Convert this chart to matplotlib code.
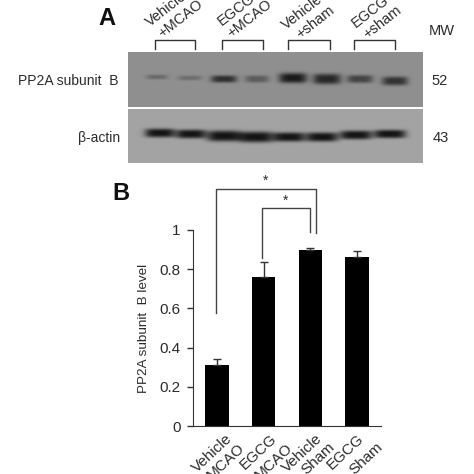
"""Western blot panel (A) and PP2A subunit B bar chart (B)."""
import numpy as np
import matplotlib
matplotlib.use("Agg")
import matplotlib.pyplot as plt

plt.rcParams["font.family"] = ["Liberation Sans", "DejaVu Sans"]
TXT = "#2b2b2b"

# panel B data
groups = ["Vehicle", "EGCG", "Vehicle", "EGCG"]
conds = ["MCAO", "MCAO", "Sham", "Sham"]
levels = [0.31, 0.76, 0.90, 0.86]
errs = [0.03, 0.075, 0.01, 0.033]
yticks = [0, 0.2, 0.4, 0.6, 0.8, 1]
yticklabels = ["0", "0.2", "0.4", "0.6", "0.8", "1"]

# panel A band readings: lane centre, half width, centre row, thickness, darkness
pp2a_x = [157, 190, 224, 257, 293, 327, 360, 395]
pp2a_hw = [11, 12, 13, 12, 14, 14, 13, 13]
pp2a_y = [77, 78, 79, 79, 78, 79, 79, 81]
pp2a_th = [2.4, 2.4, 3.6, 3.6, 5.0, 5.2, 4.0, 4.4]
pp2a_dark = [0.30, 0.27, 0.78, 0.42, 0.95, 0.85, 0.62, 0.75]
actin_x = [160, 191, 224, 256, 289, 322, 356, 390]
actin_hw = [15, 15, 17, 17, 16, 16, 16, 16]
actin_y = [133, 134, 136, 137, 137, 137, 135, 134]
actin_th = [4.4, 4.4, 5.4, 5.4, 4.6, 4.6, 4.4, 4.2]
actin_dark = [1.0, 1.0, 1.0, 1.0, 1.0, 1.0, 1.0, 1.0]


def blot(x0, x1, y0, y1, bg, xs, hws, ys, ths, darks):
    # soft bands on a grey membrane, built on a one pixel grid
    xx, yy = np.meshgrid(np.arange(x0, x1) + 0.5, np.arange(y0, y1) + 0.5)
    img = np.full(xx.shape, bg, dtype=float)
    for x, hw, y, th, d in zip(xs, hws, ys, ths, darks):
        band = np.exp(-((xx - x) / hw) ** 4) * np.exp(-np.abs((yy - y) / th) ** 3)
        img -= d * (bg - 0.08) * band
    return np.clip(img, 0.08, 1)


fig = plt.figure(figsize=(4.74, 4.74), dpi=100)

# overlay in pixel coordinates for the blot and its labels
ov = fig.add_axes([0, 0, 1, 1])
ov.set_xlim(0, 474)
ov.set_ylim(474, 0)
ov.axis("off")

ov.imshow(blot(128, 423, 52, 107, 0.56, pp2a_x, pp2a_hw, pp2a_y, pp2a_th, pp2a_dark),
          extent=(128, 423, 107, 52), cmap="gray", vmin=0, vmax=1, aspect="auto")
ov.imshow(blot(128, 423, 109, 163, 0.64, actin_x, actin_hw, actin_y, actin_th, actin_dark),
          extent=(128, 423, 163, 109), cmap="gray", vmin=0, vmax=1, aspect="auto")
ov.set_xlim(0, 474)
ov.set_ylim(474, 0)

# lane brackets
for a, b in [(155, 195), (222, 263), (288, 330), (354, 395)]:
    ov.plot([a, a, b, b], [49, 40, 40, 49], color="#333333", lw=1)

# lane labels run off the top edge like in the original
lane_txt = [("Vehicle", 166, 9), ("+MCAO", 180, 19), ("EGCG", 236, 10), ("+MCAO", 249, 19),
            ("Vehicle", 302, 12), ("+sham", 315, 22), ("EGCG", 370, 12), ("+sham", 382, 22)]
for s, x, y in lane_txt:
    ov.text(x, y, s, rotation=38, ha="center", va="center", rotation_mode="anchor",
            fontsize=10.5, color=TXT)

ov.text(107, 18, "A", fontsize=17, fontweight="bold", ha="center", va="center", color="#111111")
ov.text(442, 31, "MW", fontsize=10.5, ha="center", va="center", color=TXT)
ov.text(119, 81, "PP2A subunit  B", fontsize=10, ha="right", va="center", color=TXT)
ov.text(120, 138, "β-actin", fontsize=10, ha="right", va="center", color=TXT)
ov.text(440, 81, "52", fontsize=10.5, ha="center", va="center", color=TXT)
ov.text(441, 138, "43", fontsize=10.5, ha="center", va="center", color=TXT)

# significance brackets and panel B labels
ov.plot([216, 216, 316, 316], [313, 189, 189, 233], color="#444444", lw=1)
ov.plot([262, 262, 310, 310], [258, 208, 208, 232], color="#444444", lw=1)
ov.text(266, 181, "*", fontsize=10, ha="center", va="center", color=TXT)
ov.text(286, 201, "*", fontsize=10, ha="center", va="center", color=TXT)
ov.text(121, 194, "B", fontsize=17, fontweight="bold", ha="center", va="center", color="#111111")

# bar chart
ax = fig.add_axes([193 / 474, 48 / 474, 188 / 474, 196 / 474])
ax.patch.set_alpha(0)
x = np.arange(len(levels))
ax.bar(x, levels, width=0.5, color="black")
ax.errorbar(x, levels, yerr=[[0] * len(errs), errs], fmt="none", ecolor="#333333",
            elinewidth=1, capsize=3, capthick=1)
ax.set_xlim(-0.514, 3.51)
ax.set_ylim(0, 1)
ax.set_xticks([])
ax.set_yticks(yticks)
ax.set_yticklabels(yticklabels, fontsize=11, color=TXT)
ax.tick_params(axis="y", length=4, width=1, color="#333333", pad=5)
ax.set_ylabel("PP2A subunit  B level", fontsize=9.7, color=TXT, labelpad=7)
ax.spines["top"].set_visible(False)
ax.spines["right"].set_visible(False)
ax.spines["left"].set_color("#333333")
ax.spines["bottom"].set_color("#333333")

# category labels, cut by the bottom edge
group_pos = [(212, 453), (258, 452), (302, 453), (345, 452)]
cond_pos = [(226, 461), (274, 461), (318, 459), (366, 459)]
for s, (px, py) in zip(groups, group_pos):
    ov.text(px, py, s, rotation=43, ha="center", va="center", rotation_mode="anchor",
            fontsize=11, color=TXT)
for s, (px, py) in zip(conds, cond_pos):
    ov.text(px, py, s, rotation=43, ha="center", va="center", rotation_mode="anchor",
            fontsize=11, color=TXT)

fig.savefig("out.png", dpi=100)
